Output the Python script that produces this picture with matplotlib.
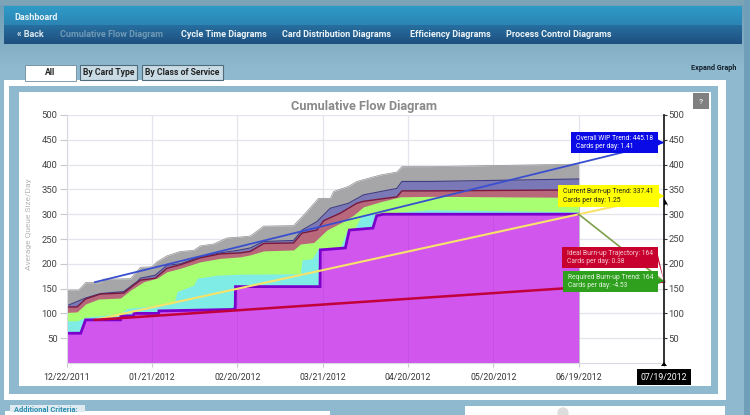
import numpy as np
import matplotlib
matplotlib.use("Agg")
import matplotlib.pyplot as plt
from matplotlib.patches import Rectangle, Polygon

plt.rcParams['font.family'] = ['Roboto', 'DejaVu Sans']

# ---------- data ----------
x_tick_days = [0, 30, 60, 90, 120, 150, 180, 210]
x_tick_labels = ['12/22/2011', '01/21/2012', '02/20/2012', '03/21/2012',
                 '04/20/2012', '05/20/2012', '06/19/2012', '07/19/2012']
y_ticks = [50, 100, 150, 200, 250, 300, 350, 400, 450, 500]

gray_x = [0, 4.3, 6.7, 11.9, 13, 22.5, 26, 30, 31.8, 35.3, 40, 44.7, 47, 51.7, 56.4, 61.1, 64.6, 69.3, 79.8, 83.3, 88.6, 92.7, 93.9, 99.1, 102, 110.3, 116.1, 117.9, 127.8, 180]
gray_y = [147, 147, 162, 162, 169, 170, 193, 194, 204, 216, 225, 227, 236, 240, 252, 254, 256, 276, 277, 298, 332, 332, 346, 356, 366, 379, 385, 396, 396, 401]
slate_x = [0, 6.7, 11.9, 20.1, 24.8, 26, 31.2, 35.3, 40, 47, 54, 61.1, 64.6, 69.3, 79.8, 82.8, 88, 92.7, 99.1, 104.4, 116.1, 117.9, 127.8, 180]
slate_y = [115, 131, 140, 144, 164, 171, 177, 197, 200, 214, 222, 228, 232, 245, 247, 268, 285, 312, 322, 339, 352, 366, 366, 371]
red_x = [0, 3.7, 6.7, 11.9, 20.1, 23.6, 26, 31.2, 35.3, 40, 47, 54, 61.1, 64.6, 69.3, 79.8, 82.8, 88, 90.4, 96.2, 102, 104.4, 116.1, 117.9, 127.8, 180]
red_y = [113, 113, 129, 139, 141, 157, 167, 171, 191, 198, 212, 220, 222, 225, 241, 242, 262, 268, 287, 302, 322, 326, 335, 347, 347, 349]
green_x = [0, 3.7, 6.7, 11.3, 19, 22.5, 27.2, 31.8, 35.3, 40, 47, 54, 61.1, 64.6, 69.3, 79.8, 82.2, 86.9, 91.5, 96.2, 100.9, 104.4, 110.3, 117.3, 127.8, 180]
green_y = [102, 103, 119, 129, 131, 147, 164, 171, 184, 191, 204, 211, 214, 218, 226, 228, 240, 243, 268, 282, 298, 315, 325, 335, 336, 334]
cyan_x = [0, 3.7, 6.7, 19, 21.3, 37.7, 38.9, 44.7, 45.9, 52.9, 61.1, 82.2, 82.8, 86.3, 88.6, 96.2, 98.6, 100.9, 103.8, 118.5, 127.8, 180]
cyan_y = [85, 85, 92, 100, 110, 120, 144, 157, 171, 177, 179, 180, 208, 210, 232, 232, 268, 268, 298, 305, 309, 305]
done_x = [0, 5, 6.7, 19, 19.1, 23.6, 23.7, 32.4, 32.5, 58.6, 59.3, 59.4, 89.1, 89.2, 98, 99.4, 107.7, 109, 111.4, 180]
done_y = [60, 60, 87, 87, 95, 95, 100, 100, 105, 108, 111, 154, 154, 228, 232, 268, 272, 297, 300, 300]

trend_x = [10, 210]
wip_trend = [163, 445.18]
burnup_trend = [87, 337.41]
ideal_trend = [87, 164]
required_x = [180, 210]
required_trend = [300, 164]

callouts = [
    ('Overall WIP Trend: 445.18\nCards per day: 1.41', '#0a0ae6', 'white'),
    ('Current Burn-up Trend: 337.41\nCards per day: 1.25', '#ffff00', '#222222'),
    ('Ideal Burn-up Trajectory: 164\nCards per day: 0.38', '#c8002d', '#f5c8d0'),
    ('Required Burn-up Trend: 164\nCards per day: -4.53', '#2ea01e', '#e4f5e0'),
]

# ---------- figure ----------
W, H = 750, 415
fig = plt.figure(figsize=(W / 100, H / 100), dpi=100, facecolor='#8fb9cf')

ui = fig.add_axes([0, 0, 1, 1], zorder=0)
ui.set_xlim(0, W); ui.set_ylim(H, 0); ui.axis('off')


def rect(a, x0, y0, x1, y1, c, z=1, **kw):
    a.add_patch(Rectangle((x0, y0), x1 - x0, y1 - y0, facecolor=c, edgecolor=kw.pop('ec', 'none'), zorder=z, **kw))


def grad(a, x0, y0, x1, y1, c0, c1, z=2):
    c0 = np.array(matplotlib.colors.to_rgb(c0)); c1 = np.array(matplotlib.colors.to_rgb(c1))
    t = np.linspace(0, 1, 32)[:, None, None]
    a.imshow(c0[None, None, :] * (1 - t) + c1[None, None, :] * t, extent=[x0, x1, y1, y0], aspect='auto', zorder=z, interpolation='bilinear')


grad(ui, 0, 0, W, 70, '#6f9db4', '#8fb9cf', z=0.5)
ui.set_xlim(0, W); ui.set_ylim(H, 0)
rect(ui, 0, 0, W, 5, '#7da3b6', z=0.6)
rect(ui, 744, 0, W, H, '#6f9fb9', z=0.6)
grad(ui, 4, 6, 742, 25, '#2f9bc8', '#2b84b4')
grad(ui, 4, 25, 742, 44, '#266f9f', '#1f4f80')
ui.text(14, 17.5, 'Dashboard', color='#e8f3f8', fontsize=6.5, fontweight='bold', va='center', zorder=3)
nav = [('« Back', 17, '#dbe8f0'), ('Cumulative Flow Diagram', 60, '#6f9ab6'), ('Cycle Time Diagrams', 181, '#eef5f9'),
       ('Card Distribution Diagrams', 282, '#eef5f9'), ('Efficiency Diagrams', 410, '#eef5f9'), ('Process Control Diagrams', 506, '#eef5f9')]
for s, x, c in nav:
    ui.text(x, 34.5, s, color=c, fontsize=6.5, fontweight='bold', va='center', zorder=3)
ui.text(691, 68.5, 'Expand Graph', color='#15202b', fontsize=5.2, fontweight='bold', va='center', zorder=3)

# panels
rect(ui, 4, 80, 726, 400, 'white', z=1)
rect(ui, 9, 86, 718, 394, '#8fb9cf', z=1.1)
rect(ui, 19, 92, 711, 386, 'white', z=1.2)

# tabs
rect(ui, 25, 65, 76, 81, 'white', z=1.5, ec='#6d8c9c', lw=0.6)
rect(ui, 80, 65, 137, 80, '#c9dce5', z=1.5, ec='#4f6c7c', lw=0.8)
rect(ui, 142, 65, 223, 80, '#c9dce5', z=1.5, ec='#4f6c7c', lw=0.8)
ui.text(50, 72.8, 'All', fontsize=6.2, fontweight='bold', color='#222222', ha='center', va='center', zorder=3)
ui.text(108.5, 72.8, 'By Card Type', fontsize=6.2, fontweight='bold', color='#222222', ha='center', va='center', zorder=3)
ui.text(182.5, 72.8, 'By Class of Service', fontsize=6.2, fontweight='bold', color='#222222', ha='center', va='center', zorder=3)

# help button, title, y label
rect(ui, 693, 93, 709, 109, '#808080', z=3)
ui.text(701, 101, '?', color='#dddddd', fontsize=6, fontweight='bold', ha='center', va='center', zorder=4)
ui.text(364, 106.5, 'Cumulative Flow Diagram', color='#8a8a8a', fontsize=9.2, fontweight='bold',
        ha='center', va='center', zorder=3)
ui.text(29, 224, 'Average Queue Size/Day', color='#b5b5b5', fontsize=6, rotation=90, ha='center', va='center', zorder=3)

# bottom strip
rect(ui, 5, 411, 330, 416, 'white', z=1)
rect(ui, 10, 405, 85, 412, '#dfeaf0', z=1.1)
ui.text(14, 410, 'Additional Criteria:', color='#2a8fb0', fontsize=5.4, fontweight='bold', va='center', zorder=3)
rect(ui, 465, 406, 725, 416, 'white', z=1)
ui.add_patch(plt.Circle((563, 413), 5, color='#dddddd', zorder=2))

# ---------- chart ----------
L, R, T, B = 66.5, 664.0, 115.0, 363.0
ax = fig.add_axes([L / W, 1 - B / H, (R - L) / W, (B - T) / H], zorder=2)
ax.patch.set_alpha(0)
ax.set_xlim(0, 210); ax.set_ylim(0, 500)

layers = [(gray_x, gray_y, '#a6a6a8'), (slate_x, slate_y, '#7b78b8'), (red_x, red_y, '#b8687a'),
          (green_x, green_y, '#a9ff72'), (cyan_x, cyan_y, '#80ece6'), (done_x, done_y, '#d056ee')]
for xs, ys, c in layers:
    ax.fill_between(xs, 0, ys, color=c, lw=0, zorder=2)
ax.plot(gray_x, gray_y, color='#8e8e90', lw=0.5, zorder=2.2)
ax.plot(slate_x, slate_y, color='#3f3c86', lw=0.8, zorder=2.2)
ax.plot(red_x, red_y, color='#7d1838', lw=1.0, zorder=2.2)
ax.plot(done_x, done_y, color='#7a00cc', lw=2.0, zorder=2.4, solid_joinstyle='miter')

ax.set_yticks(y_ticks)
ax.set_xticks(x_tick_days)
ax.set_xticklabels(x_tick_labels)
ax.grid(True, color='#e4e4ec', lw=0.9, zorder=1)
for v in x_tick_days[1:-2]:
    ax.vlines(v, 0, np.interp(v, done_x, done_y), color='#a040c0', lw=0.5, alpha=0.3, zorder=2.3)
ax.tick_params(axis='x', length=3, color='#c8c8d0', labelsize=6.3, labelcolor='#333333', pad=4)
ax.tick_params(axis='y', length=5, color='#c8c8d0', labelsize=6.8, labelcolor='#444444', pad=1.5)
for s in ['top', 'right']:
    ax.spines[s].set_visible(False)
ax.spines['left'].set_color('#d8d8e0')
ax.spines['bottom'].set_color('#d8d8e0')
ax.set_axisbelow(True)

ax2 = ax.twinx()
ax2.set_ylim(0, 500); ax2.set_yticks(y_ticks)
ax2.tick_params(axis='y', length=2.5, color='#333333', labelsize=6.8, labelcolor='#444444', pad=0.8)
for s in ['top', 'left', 'bottom']:
    ax2.spines[s].set_visible(False)
ax2.spines['right'].set_color('#222222'); ax2.spines['right'].set_linewidth(1.3)
ax2.patch.set_alpha(0)

ax.plot(trend_x, wip_trend, color='#3a4fd0', lw=1.3, zorder=3, clip_on=False)
ax.plot(trend_x, burnup_trend, color='#f7e36a', lw=1.5, zorder=3, clip_on=False)
ax.plot(trend_x, ideal_trend, color='#c2003a', lw=1.8, zorder=3, clip_on=False)
ax.plot(required_x, required_trend, color='#7da04a', lw=1.2, zorder=3, clip_on=False)

labs = ax.get_xticklabels()
labs[-1].set_color('white')
labs[-1].set_bbox(dict(facecolor='black', edgecolor='none', pad=2.6))

# ---------- overlay callouts ----------
ov = fig.add_axes([0, 0, 1, 1], zorder=3)
ov.set_xlim(0, W); ov.set_ylim(H, 0); ov.axis('off'); ov.patch.set_alpha(0)
boxes = [(571, 132, 658, 153), (558, 185, 659, 207), (562, 247, 658, 268), (563, 271, 658, 292)]
tips = [142.5, 196, 258, 281]
targets = [142.5, 196, 281, 281]
for (s, c, tc), (x0, y0, x1, y1), tp, tg in zip(callouts, boxes, tips, targets):
    rect(ov, x0, y0, x1, y1, c, z=2)
    ov.add_patch(Polygon([(x1, tp - 3), (x1, tp + 3), (664, tg)], closed=True, facecolor=c, edgecolor='none', zorder=1.9))
    ov.text(x0 + 5, (y0 + y1) / 2, s, color=tc, fontsize=4.9, va='center', linespacing=1.35, zorder=3)
ov.add_patch(Polygon([(664, 198), (664, 206), (666, 204), (668, 206), (667, 203)], closed=True, facecolor='black', edgecolor='none', zorder=4))
ov.add_patch(Polygon([(661, 366), (667, 366), (664, 362)], closed=True, facecolor='black', edgecolor='none', zorder=4))

fig.savefig('out.png', dpi=100, facecolor=fig.get_facecolor())
